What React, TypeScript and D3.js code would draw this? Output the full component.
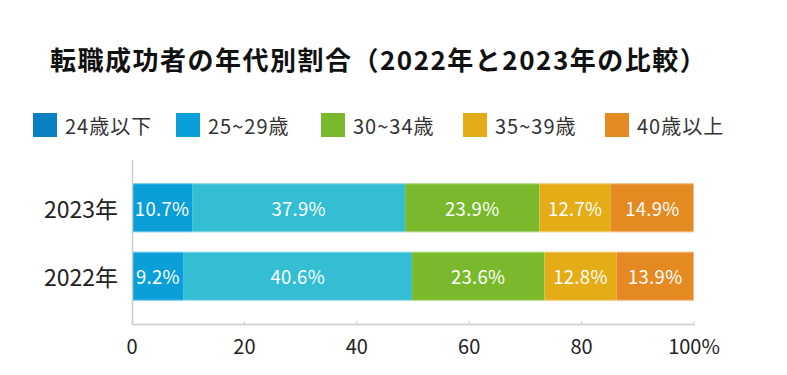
import React from "react";
import * as d3 from "d3";

const title = "転職成功者の年代別割合（2022年と2023年の比較）";
const categories = ["24歳以下", "25~29歳", "30~34歳", "35~39歳", "40歳以上"];
const years = ["2023年", "2022年"];
const values2023 = [10.7, 37.9, 23.9, 12.7, 14.9];
const values2022 = [9.2, 40.6, 23.6, 12.8, 13.9];
const xTicks = [0, 20, 40, 60, 80, 100];

const barColors = ["#0a9fd9", "#33bed3", "#79b92b", "#e4ac16", "#e58a22"];
const legendColors = ["#0a7fc1", "#0a9fd9", "#79b92b", "#e4ac16", "#e58a22"];
const legendX = [33, 176, 321, 463, 605];

const FONT = "'Noto Sans CJK JP', 'Noto Sans', sans-serif";

export default function App() {
  const W = 787;
  const H = 375;
  const x = d3.scaleLinear().domain([0, 100]).range([132, 694]);
  const y = d3
    .scaleBand<string>()
    .domain(years)
    .range([160, 324])
    .paddingInner(0.285)
    .paddingOuter(0.34);
  const rows = [
    { year: years[0], vals: values2023 },
    { year: years[1], vals: values2022 },
  ];
  return (
    <svg
      width={W}
      height={H}
      style={{ position: "absolute", left: 0, top: 0, background: "#fff" }}
      fontFamily={FONT}
    >
      <text x={50} y={70} fontSize={26} fontWeight="bold" fill="#111" letterSpacing={1.5}>
        {title}
      </text>
      {categories.map((c, i) => (
        <g key={c}>
          <rect x={legendX[i]} y={113} width={24} height={24} fill={legendColors[i]} />
          <text
            x={legendX[i] + 32}
            y={125}
            fontSize={20}
            fill="#333"
            letterSpacing={1}
            dominantBaseline="central"
          >
            {c}
          </text>
        </g>
      ))}
      {rows.map((r) => {
        let acc = 0;
        const y0 = y(r.year)!;
        const bw = y.bandwidth();
        return (
          <g key={r.year}>
            <text
              x={118}
              y={y0 + bw / 2}
              fontSize={23}
              fill="#222"
              textAnchor="end"
              dominantBaseline="central"
            >
              {r.year}
            </text>
            {r.vals.map((v, i) => {
              const s = acc;
              acc += v;
              const x0 = x(s);
              const x1 = Math.min(x(acc), x(100));
              return (
                <g key={i}>
                  <rect
                    x={x0}
                    y={y0}
                    width={x1 - x0}
                    height={bw}
                    fill={barColors[i]}
                  />
                  <text
                    x={(x0 + x1) / 2}
                    y={y0 + bw / 2}
                    fontSize={18.5}
                    fill="#fff"
                    textAnchor="middle"
                    letterSpacing={0.3}
                    dominantBaseline="central"
                  >
                    {v.toFixed(1)}%
                  </text>
                </g>
              );
            })}
            <rect
              x={x(0)}
              y={y0 + 0.5}
              width={x(100) - x(0) - 0.5}
              height={bw - 1}
              fill="none"
              stroke="#fff"
              strokeOpacity={0.45}
              strokeWidth={1}
            />
          </g>
        );
      })}
      <line x1={132.5} x2={132.5} y1={160} y2={324} stroke="#cccccc" strokeWidth={1.5} />
      <line x1={132} x2={694.5} y1={324.5} y2={324.5} stroke="#cccccc" strokeWidth={1.5} />
      {xTicks.map((t) => (
        <g key={t}>
          <line x1={x(t)} x2={x(t)} y1={321} y2={324} stroke="#cccccc" strokeWidth={1} />
          <text
            x={x(t)}
            y={345}
            fontSize={20}
            fill="#222"
            textAnchor="middle"
            dominantBaseline="central"
          >
            {t === 100 ? "100%" : String(t)}
          </text>
        </g>
      ))}
    </svg>
  );
}
